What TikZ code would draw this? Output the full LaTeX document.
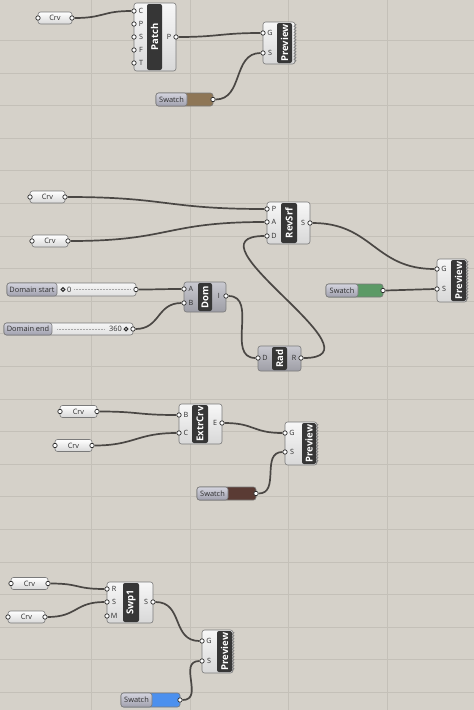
\documentclass[tikz,border=0pt]{standalone}
\usepackage{fontspec}
\setmainfont{Open Sans}
\usetikzlibrary{decorations.pathmorphing}
\definecolor{bgc}{HTML}{D5D1C9}
\definecolor{gridc}{HTML}{C4C0B8}
\definecolor{wirec}{HTML}{4A4744}
\definecolor{edgec}{HTML}{7A7A7A}
\definecolor{portc}{HTML}{2A2A2A}
\definecolor{bodytop}{HTML}{F7F7F7}
\definecolor{bodybot}{HTML}{D8D8D8}
\definecolor{graytop}{HTML}{C9C9D0}
\definecolor{graybot}{HTML}{9E9EA6}
\definecolor{barc}{HTML}{363636}
\definecolor{labtop}{HTML}{D4D4DE}
\definecolor{labbot}{HTML}{A0A0AE}
\definecolor{sw1}{HTML}{8E7656}
\definecolor{sw2}{HTML}{5C9A66}
\definecolor{sw3}{HTML}{5A3B34}
\definecolor{sw4}{HTML}{4C90EE}
\definecolor{txtc}{HTML}{2E2E2E}
\definecolor{slidtop}{HTML}{F6F6F6}
\definecolor{slidbot}{HTML}{E0E0E0}
\tikzset{
  gridline/.style={draw=gridc, line width=0.7pt},
  wire/.style={draw=wirec, line width=1.7pt},
  port/.style={circle, draw=portc, fill=white, line width=0.7pt, inner sep=0pt, minimum size=4.4pt},
  compbody/.style={draw=edgec, line width=0.6pt, rounded corners=2.5pt, top color=bodytop, bottom color=bodybot},
  graybody/.style={top color=graytop, bottom color=graybot},
  barfill/.style={fill=barc, rounded corners=2pt},
  bartext/.style={rotate=90, text=white, font=\fontsize{9.5}{10}\selectfont\bfseries, inner sep=0pt},
  plabel/.style={text=txtc, font=\fontsize{7.2}{8}\selectfont, inner sep=0pt},
  txt/.style={text=txtc, font=\fontsize{7.4}{8}\selectfont, inner sep=0pt},
  parambox/.style={draw=edgec, line width=0.6pt, rounded corners=2.5pt, top color=white, bottom color=bodybot},
  swbox/.style={draw=edgec, line width=0.6pt, rounded corners=2.5pt},
  swlab/.style={draw=edgec, line width=0.6pt, rounded corners=2.5pt, top color=labtop, bottom color=labbot},
  zig/.style={draw=edgec, line width=0.5pt, decorate, decoration={zigzag, segment length=3pt, amplitude=1.1pt}},
}
\newcommand\gbody[5]{\draw[compbody,#5] (#1,#2) rectangle (#3,#4);}
\newcommand\gbar[6]{\fill[barfill] (#2,#3) rectangle (#4,#5); \node[bartext] (#1) at ({(#2+#4)/2},{(#3+#5)/2}) {#6};}
\newcommand\gin[4]{\node[plabel] (#1-l) at ({#2+7},#3) {#4}; \node[port] (#1) at (#2,#3) {};}
\newcommand\gout[4]{\node[plabel] (#1-l) at ({#2-7},#3) {#4}; \node[port] (#1) at (#2,#3) {};}
\newcommand\gzig[3]{\draw[zig] (#1,#2) -- (#1,#3);}
\newcommand\gcrv[4]{\draw[parambox] (#2,{#4-6}) rectangle (#3,{#4+6}); \node[txt] (#1-t) at ({(#2+#3)/2},#4) {Crv}; \node[port] (#1-i) at (#2,#4) {}; \node[port] (#1) at (#3,#4) {};}
\newcommand\gswatch[7]{\draw[swbox,fill=#7] (#2,#3) rectangle (#5,#6); \draw[swlab] (#2,#3) rectangle (#4,#6); \node[txt] (#1-t) at ({(#2+#4)/2},{(#3+#6)/2}) {Swatch}; \node[port] (#1) at (#5,{(#3+#6)/2}) {};}
\newcommand\gwire[3]{\draw[wire] (#1.east) .. controls +(#3,0) and +(-#3,0) .. (#2.west);}
\begin{document}
\begin{tikzpicture}[x=1pt,y=-1pt]
\useasboundingbox (0,0) rectangle (474,710);
\fill[bgc] (0,0) rectangle (474,710);
% grid
\foreach \k in {0,...,20} \draw[gridline] (0,{40.4+32.6*\k}) -- (474,{40.4+32.6*\k});
\foreach \gx in {91,190,288,387} \draw[gridline] (\gx,0) -- (\gx,710);

% ===== group 1 =====
\gcrv{crv1}{38}{72}{18}
\gbody{134}{3}{176}{71}{}
\gbar{patch}{147}{4}{162}{70}{Patch}
\gin{patchC}{134}{11}{C}
\gin{patchP}{134}{24}{P}
\gin{patchS}{134}{37}{S}
\gin{patchF}{134}{50}{F}
\gin{patchT}{134}{63}{T}
\gout{patchOut}{176}{37}{P}
\gbody{263}{22}{295}{64}{}
\gzig{295}{24}{62}
\gbar{prev1}{277}{23}{292}{63}{Preview}
\gin{prev1G}{263}{33}{G}
\gin{prev1S}{263}{53}{S}
\gswatch{sw1o}{156}{93}{187}{213}{106}{sw1}

% ===== group 2 =====
\gcrv{crvA}{30}{65}{197}
\gcrv{crvB}{32}{68}{241}
% sliders
\draw[swbox, top color=slidtop, bottom color=slidbot] (7,283) rectangle (136,296);
\draw[swlab] (7,283) rectangle (57,296);
\node[txt] (dstart-t) at (32,289.5) {Domain start};
\draw[gray!70, densely dotted, line width=0.5pt] (74,289.5) -- (131,289.5);
\draw[portc, line width=1pt] (63,289.5) circle (1.8);
\node[txt, anchor=west] (dstart-v) at (67,289.5) {0};
\node[port] (dstart) at (136,289.5) {};
\draw[swbox, top color=slidtop, bottom color=slidbot] (4,323) rectangle (133,335);
\draw[swlab] (4,323) rectangle (52,335);
\node[txt] (dend-t) at (28,329) {Domain end};
\draw[gray!70, densely dotted, line width=0.5pt] (57,329) -- (105,329);
\draw[portc, line width=1pt] (126,329) circle (1.8);
\node[txt, anchor=east] (dend-v) at (122,329) {360};
\node[port] (dend) at (133,329) {};
% Dom
\gbody{184}{282}{226}{312}{graybody}
\gbar{dom}{198}{283}{212}{311}{Dom}
\gin{domA}{184}{289}{A}
\gin{domB}{184}{303}{B}
\gout{domI}{226}{296}{I}
% RevSrf
\gbody{267}{202}{310}{244}{}
\gbar{rev}{281}{203}{297}{243}{RevSrf}
\gin{revP}{267}{209}{P}
\gin{revA}{267}{222}{A}
\gin{revD}{267}{236}{D}
\gout{revS}{310}{223}{S}
% Preview 2
\gbody{437}{259}{467}{302}{}
\gzig{467}{261}{300}
\gbar{prev2}{451}{260}{466}{301}{Preview}
\gin{prev2G}{437}{269}{G}
\gin{prev2S}{437}{289}{S}
\gswatch{sw2o}{326}{284}{358}{383}{297}{sw2}
% Rad
\gbody{258}{346}{301}{371}{graybody}
\gbar{rad}{272}{347}{287}{370}{Rad}
\gin{radD}{258}{358}{D}
\gout{radR}{301}{358}{R}

% ===== group 3 =====
\gcrv{crv3a}{60}{97}{411.5}
\gcrv{crv3b}{55}{92}{445.5}
\gbody{179}{404}{222}{444}{}
\gbar{extr}{192}{405}{208}{443}{ExtrCrv}
\gin{extrB}{179}{415}{B}
\gin{extrC}{179}{433}{C}
\gout{extrE}{222}{423}{E}
\gbody{285}{422}{317}{465}{}
\gzig{317}{424}{463}
\gbar{prev3}{302}{423}{316}{464}{Preview}
\gin{prev3G}{285}{433}{G}
\gin{prev3S}{285}{452}{S}
\gswatch{sw3o}{197}{487}{228}{256}{500}{sw3}

% ===== group 4 =====
\gcrv{crv4a}{11}{48}{583.5}
\gcrv{crv4b}{8}{45}{617}
\gbody{107}{582}{153}{623}{}
\gbar{swp}{123}{583}{139}{622}{Swp1}
\gin{swpR}{107}{589}{R}
\gin{swpS}{107}{602}{S}
\gin{swpM}{107}{616}{M}
\gout{swpOut}{153}{602}{S}
\gbody{202}{630}{233}{673}{}
\gzig{233}{632}{671}
\gbar{prev4}{217}{631}{232}{672}{Preview}
\gin{prev4G}{202}{641}{G}
\gin{prev4S}{202}{661}{S}
\gswatch{sw4o}{121}{693}{152}{180}{707}{sw4}

% ===== wires =====
\gwire{crv1}{patchC}{30}
\gwire{patchOut}{prev1G}{40}
\gwire{sw1o}{prev1S}{28}
\gwire{crvA}{revP}{100}
\gwire{crvB}{revA}{100}
\gwire{dstart}{domA}{20}
\gwire{dend}{domB}{25}
\gwire{domI}{radD}{30}
\gwire{radR}{revD}{85}
\gwire{revS}{prev2G}{60}
\gwire{sw2o}{prev2S}{25}
\gwire{crv3a}{extrB}{40}
\gwire{crv3b}{extrC}{40}
\gwire{extrE}{prev3G}{30}
\gwire{sw3o}{prev3S}{22}
\gwire{crv4a}{swpR}{30}
\gwire{crv4b}{swpS}{30}
\gwire{swpOut}{prev4G}{28}
\gwire{sw4o}{prev4S}{22}
\end{tikzpicture}
\end{document}
